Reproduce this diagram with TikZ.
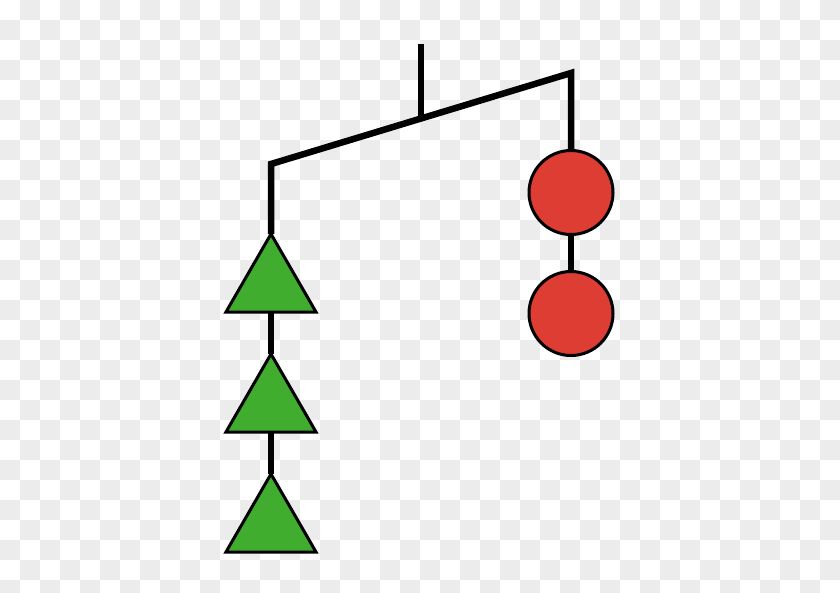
\documentclass[tikz,border=0pt]{standalone}
\usetikzlibrary{shapes.geometric,calc}
\definecolor{checkgray}{RGB}{236,236,236}
\definecolor{weightgreen}{RGB}{65,173,46}
\definecolor{weightred}{RGB}{222,61,51}
\tikzstyle{rod} = [line width=6.5pt, black]
\tikzstyle{triweight} = [draw, line width=3pt, fill=weightgreen, regular polygon, regular polygon sides=3, minimum size=104pt, inner sep=0pt, outer sep=0pt]
\tikzstyle{ballweight} = [draw, line width=3pt, fill=weightred, circle, minimum size=84pt, inner sep=0pt, outer sep=0pt]

\begin{document}
\begin{tikzpicture}[x=1pt,y=-1pt]
    \useasboundingbox (0,0) rectangle (840,592);
    \fill[white] (0,0) rectangle (840,592);
    \foreach \i in {0,...,41}
      \foreach \j in {0,...,29}
      {
        \pgfmathtruncatemacro{\oddcell}{mod(\i+\j,2)}
        \ifnum\oddcell=1 \fill[checkgray] (20*\i,20*\j) rectangle ++(20,20); \fi
      }
    \coordinate (hook) at (421,44);
    \coordinate (beamL) at (271,164);
    \coordinate (beamR) at (571,73);
    \coordinate (pivot) at ($(beamL)!0.5!(beamR)$);
    \draw (271,286) node[triweight] (t1) {};
    \draw (271,406) node[triweight] (t2) {};
    \draw (271,526) node[triweight] (t3) {};
    \draw (571,192.5) node[ballweight] (b1) {};
    \draw (571,313.5) node[ballweight] (b2) {};
    \draw [rod] (hook) -- (pivot);
    \draw [rod] (t1.north) -- (beamL) -- (beamR) -- (b1.north);
    \draw [rod] (t1.south) -- (t2.north);
    \draw [rod] (t2.south) -- (t3.north);
    \draw [rod] (b1.south) -- (b2.north);
\end{tikzpicture}
\end{document}
